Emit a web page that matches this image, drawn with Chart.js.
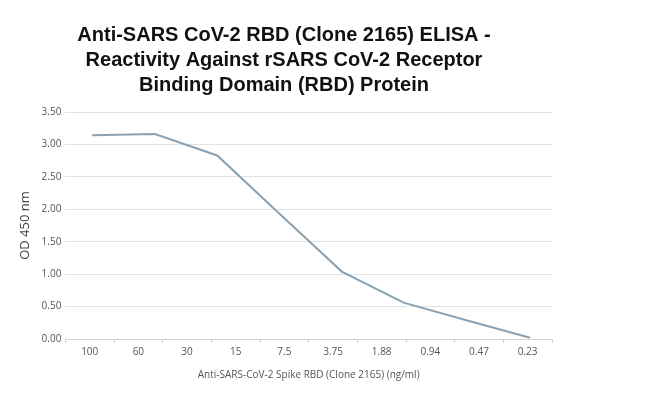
<!DOCTYPE html>
<html>
<head>
<meta charset="utf-8">
<script src="https://cdn.jsdelivr.net/npm/chart.js@4.4.1/dist/chart.umd.min.js"></script>
<style>
  html, body { margin: 0; padding: 0; background: #fff; }
</style>
</head>
<body>
<canvas id="myChart_Elisa" width="650" height="397"></canvas>
<script>
// etiquetas del eje x (ng/ml)
const concentrations = ["100", "60", "30", "15", "7.5", "3.75", "1.88", "0.94", "0.47", "0.23"];
// posicion de cada punto de la curva, en unidades de categoria
const pointPositions = [0.05, 1.34, 2.62, 3.9, 5.18, 6.45, 7.74, 9.05];
// OD 450 nm
const odValues = [3.14, 3.16, 2.83, 1.93, 1.04, 0.56, 0.29, 0.02];

const titleLines = [
  "Anti-SARS CoV-2 RBD (Clone 2165) ELISA -",
  "Reactivity Against rSARS CoV-2 Receptor",
  "Binding Domain (RBD) Protein",
];
const xTitle = "Anti-SARS-CoV-2 Spike RBD (Clone 2165) (ng/ml)";
const yTitle = "OD 450 nm";

const tickFont = { family: "Open Sans", size: 10 };

let chartElisa;

function initializeChartElisa(ctx) {
  chartElisa = new Chart(ctx, {
    type: "line",
    data: {
      labels: concentrations,
      datasets: [
        {
          label: "OD 450 nm",
          data: pointPositions.map((p, i) => ({ x: p, y: odValues[i] })),
          xAxisID: "x2",
          borderColor: "#8ba1b1",
          borderWidth: 2,
          tension: 0,
          pointRadius: 0,
          fill: false,
        },
      ],
    },
    options: {
      responsive: false,
      animation: false,
      layout: { padding: { left: 16, right: 98, top: 0, bottom: 16 } },
      plugins: {
        legend: { display: false },
        tooltip: { enabled: false },
        title: {
          display: true,
          text: titleLines,
          color: "#111111",
          font: { family: "Liberation Sans", weight: "bold", size: 20, lineHeight: 1.25 },
          padding: { top: 23, bottom: 14 },
        },
      },
      scales: {
        x: {
          type: "category",
          offset: true,
          grid: {
            display: true,
            drawOnChartArea: false,
            offset: true,
            tickLength: 4,
            color: "#cfcfcf",
          },
          border: { display: true, color: "#d4d4d4" },
          ticks: { color: "#555555", font: tickFont, padding: 3, maxRotation: 0, autoSkip: false },
          title: {
            display: true,
            text: xTitle,
            color: "#555555",
            font: tickFont,
            padding: { top: 8, bottom: 0 },
          },
        },
        x2: {
          type: "linear",
          display: false,
          min: -0.5,
          max: 9.5,
        },
        y: {
          min: 0,
          max: 3.5,
          ticks: {
            stepSize: 0.5,
            color: "#555555",
            font: tickFont,
            padding: 4,
            callback: (v) => v.toFixed(2),
          },
          grid: { color: "#e4e4e4", drawTicks: false },
          border: { display: false },
          title: {
            display: true,
            text: yTitle,
            color: "#444444",
            font: { family: "Open Sans", size: 13 },
            padding: { top: 1, bottom: 5 },
          },
        },
      },
    },
  });
}

window.addEventListener("load", function () {
  var ctx = document.getElementById("myChart_Elisa").getContext("2d");
  initializeChartElisa(ctx);
});
</script>
</body>
</html>
